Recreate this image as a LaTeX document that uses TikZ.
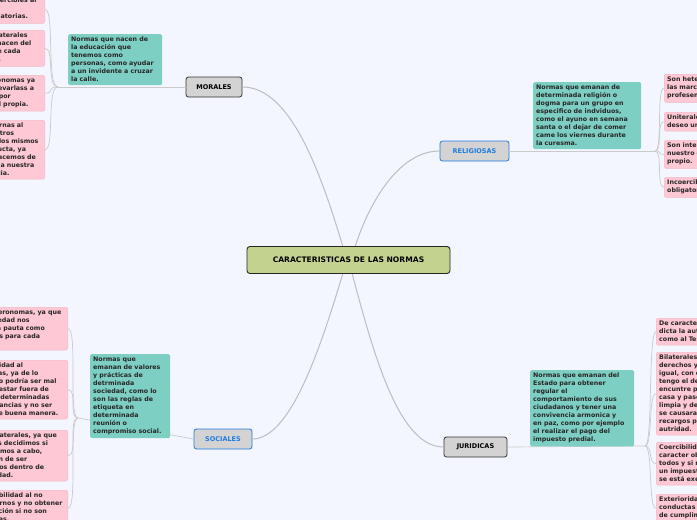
\documentclass[tikz,border=0pt]{standalone}
\usepackage{fontspec}
\setmainfont{DejaVu Sans}
\definecolor{bg}{HTML}{F3F6FE}
\definecolor{teal}{HTML}{7ECFC3}
\definecolor{pink}{HTML}{FEC8D5}
\definecolor{pinkd}{HTML}{F2B8C6}
\definecolor{gnode}{HTML}{D3D3D3}
\definecolor{cnode}{HTML}{C3D38F}
\definecolor{blu}{HTML}{1F7BE0}
\definecolor{lnk}{HTML}{BDBDBD}
\begin{document}
\begin{tikzpicture}[x=1pt,y=-1pt,
  txt/.style={font=\fontsize{6.3}{8}\selectfont\bfseries, align=left, inner sep=3pt, text=black!85},
  desc/.style={txt, fill=teal, rounded corners=1.5pt, text width=#1},
  pinkbox/.style={txt, fill=pink, draw=pinkd, line width=0.4pt, rounded corners=1.5pt, text width=#1},
  mainb/.style={draw=black!80, fill=gnode, line width=0.8pt, rounded corners=2.5pt, font=\fontsize{6.5}{8}\selectfont\bfseries, inner sep=0pt, minimum height=20pt},
  mainblue/.style={mainb, draw=blu, text=blu},
  link/.style={draw=lnk, line width=1pt},
  thin/.style={draw=lnk!80, line width=0.7pt}]
\path[clip] (0,0) rectangle (697,520);
\fill[bg] (0,0) rectangle (697,520);

\coordinate (ct1) at (343,247);
\coordinate (ct2) at (355,247);
\coordinate (cb1) at (343,273);
\coordinate (cb2) at (352,273);

\node[mainb, minimum width=56pt] (mor) at (214,87) {MORALES};
\node[mainblue, minimum width=69pt] (rel) at (474.5,151) {RELIGIOSAS};
\node[mainblue, minimum width=58pt] (soc) at (223,439) {SOCIALES};
\node[mainb, minimum width=63pt] (jur) at (475.5,447) {JURIDICAS};

\draw[link] (mor.east) .. controls (290,87) and (320,170) .. (ct1);
\draw[link] (rel.west) .. controls (400,151) and (370,200) .. (ct2);
\draw[link] (soc.east) .. controls (290,439) and (320,350) .. (cb1);
\draw[link] (jur.west) .. controls (400,447) and (375,360) .. (cb2);

\node[draw=black!85, fill=cnode, line width=0.9pt, rounded corners=3pt, minimum width=203pt, minimum height=27pt, inner sep=0pt, font=\fontsize{7.6}{9}\selectfont\bfseries] (c) at (348.5,260) {CARACTERISTICAS DE LAS NORMAS};

\coordinate (bm) at (58,87);
\coordinate (br) at (655,151);
\coordinate (bs) at (78,418);
\coordinate (bj) at (645,446);
\draw[thin] (mor.west) -- (bm);
\draw[thin] (rel.east) -- (br);
\draw[thin] (soc.west) -- (bs);
\draw[thin] (jur.east) -- (bj);

\node[desc=88pt, anchor=north west] (dm) at (68,34) {Normas que nacen de\\la educación que\\tenemos como\\personas, como ayudar\\a un invidente a cruzar\\la calle.};
\node[desc=102pt, anchor=north west] (dr) at (533,82) {Normas que emanan de\\determinada religión o\\dogma para un grupo en\\especifico de indviduos,\\como el ayuno en semana\\santa o el dejar de comer\\came los viernes durante\\la curesma.};
\node[desc=74pt, anchor=north west] (ds) at (90,354) {Normas que\\emanan de valores\\y prácticas de\\detrminada\\sociedad, como lo\\son las reglas  de\\etiqueta en\\determinada\\reunión o\\compromiso social.};
\node[desc=98pt, anchor=north west] (dj) at (530,370) {Normas que emanan del\\Estado para obtener\\regular el\\comportamiento de sus\\ciudadanos y tener una\\convivencia armonica y\\en paz, como por ejemplo\\el realizar el pago del\\impuesto predial.};

\node[pinkbox=72pt, anchor=north east] (m1) at (45,-5) {Son incoercibles al no\\ser obligatorias.};
\node[pinkbox=72pt, anchor=north east] (m2) at (45,30) {Son unilaterales\\porque nacen del\\deseo de cada\\persona.};
\node[pinkbox=72pt, anchor=north east] (m3) at (45,75) {Son autonomas ya\\que el llevarlass a\\cabo es por\\voluntad propia.};
\node[pinkbox=72pt, anchor=north east] (m4) at (45,120) {Son internas al\\ser nosotros\\mismos los mismos\\de conducta, ya\\que lo hacemos de\\acuerdo a nuestra\\conciencia.};
\foreach \n in {m1,m2,m3,m4} \draw[thin] (bm) .. controls +(-12,0) and +(10,0) .. (\n.east);

\node[pinkbox=100pt, anchor=north west] (r1) at (664,74) {Son heteronomas ya\\las marca la religión\\profesemos.};
\node[pinkbox=100pt, anchor=north west] (r2) at (664,112) {Uniterales ya que es\\deseo unico.};
\node[pinkbox=100pt, anchor=north west] (r3) at (664,140) {Son internas ya que\\nuestro deseo es\\propio.};
\node[pinkbox=100pt, anchor=north west] (r4) at (664,177) {Incoercibles al no ser\\obligatorias.};
\foreach \n in {r1,r2,r3,r4} \draw[thin] (br) .. controls +(8,0) and +(-8,0) .. (\n.west);

\node[pinkbox=94pt, anchor=north east] (s1) at (68,307) {Son heteronomas, ya que\\la asociedad nos\\marca la pauta como\\debemos para cada\\ocasión.};
\node[pinkbox=94pt, anchor=north east] (s2) at (68,360) {Exterioridad al\\ser reglas, ya de lo\\contrario podría ser mal\\visto el estar fuera de\\ellas en determinadas\\circunstancias y no ser\\vistos de buena manera.};
\node[pinkbox=94pt, anchor=north east] (s3) at (68,430) {Son unilaterales, ya que\\nosotros decidimos si\\las llevamos a cabo,\\con el fin de ser\\aceptados dentro de\\la sociedad.};
\node[pinkbox=94pt, anchor=north east] (s4) at (68,490) {Incoercibilidad al no\\ser externos y no obtener\\una sanción si no son\\cumplidas.};
\foreach \n in {s1,s2,s3,s4} \draw[thin] (bs) .. controls +(-10,0) and +(10,0) .. (\n.east);

\node[pinkbox=100pt, anchor=north west] (j1) at (656,318) {De caracter heteronomo\\dicta la autoridad\\como al Tesorería.};
\node[pinkbox=100pt, anchor=north west] (j2) at (656,352) {Bilaterales ya que\\derechos y obligaciones\\igual, con el municipio\\tengo el derecho de que\\encuntre por mi\\casa y pase el camión\\limpia y de no pagar\\se causara multas y\\recargos por parte de la\\autridad.};
\node[pinkbox=100pt, anchor=north west] (j3) at (656,442) {Coercibilidad al ser\\caracter obligatorio\\todos y si no se paga\\un impuesto\\se está exento.};
\node[pinkbox=100pt, anchor=north west] (j4) at (656,494) {Exterioridad ya que las\\conductas son\\de cumplimiento.};
\foreach \n in {j1,j2,j3,j4} \draw[thin] (bj) .. controls +(8,0) and +(-8,0) .. (\n.west);
\end{tikzpicture}
\end{document}
